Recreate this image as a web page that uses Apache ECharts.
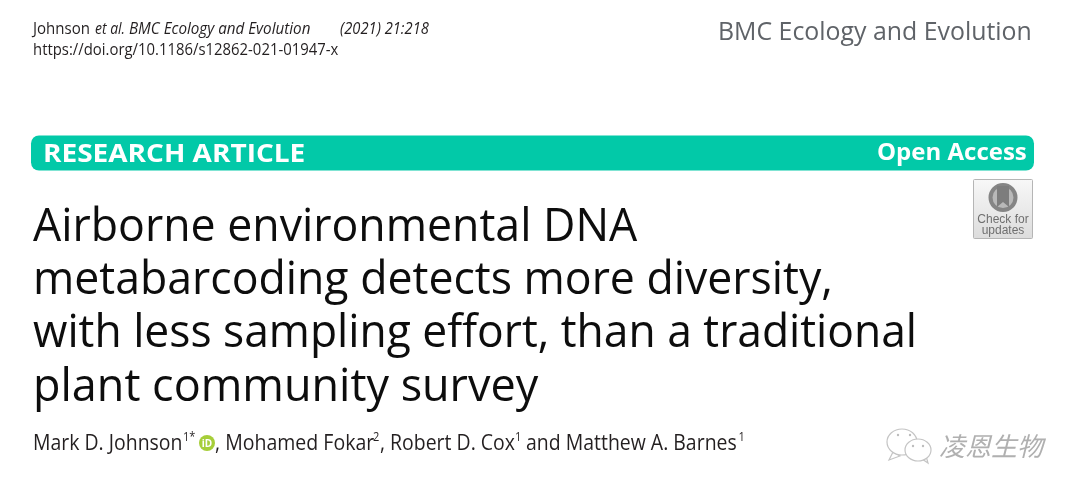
<!DOCTYPE html>
<html>
<head>
<meta charset="utf-8">
<style>
  html, body { margin: 0; padding: 0; background: #fff; }
  #main { width: 1080px; height: 495px; }
</style>
<script src="https://cdn.jsdelivr.net/npm/echarts@6/dist/echarts.min.js"></script>
</head>
<body>
<div id="main"></div>
<script>
var citation = ['Johnson', 'et al.', 'BMC Ecology and Evolution', '(2021) 21:218'];
var doi = 'https://doi.org/10.1186/s12862-021-01947-x';
var journal = 'BMC Ecology and Evolution';
var bannerLeft = 'RESEARCH ARTICLE';
var bannerRight = 'Open Access';
var titleLines = [
  'Airborne environmental DNA',
  'metabarcoding detects more diversity,',
  'with less sampling effort, than a traditional',
  'plant community survey'
];
var authors = ['Mark D. Johnson', ', Mohamed Fokar', ', Robert D. Cox', ' and Matthew A. Barnes'];
var authorMarks = ['1*', '2', '1', '1'];
var updateBadge = ['Check for', 'updates'];
var watermark = '凌恩生物';

var myChart = echarts.init(document.getElementById('main'));
var sans = '"Open Sans", "Noto Sans", sans-serif';
var ink = '#231f20';

// y is the baseline, k is how far the em middle sits above it for that font
function txt(str, x, y, size, opt) {
  opt = opt || {};
  var k = opt.k || 0.28;
  return {
    type: 'text',
    x: x,
    y: y - k * size,
    scaleX: opt.sx || 1,
    z: opt.z || 5,
    style: {
      text: str,
      fill: opt.color || ink,
      fontFamily: opt.family || sans,
      fontSize: size,
      fontWeight: opt.weight || 'normal',
      fontStyle: opt.italic ? 'italic' : 'normal',
      align: opt.align || 'left',
      verticalAlign: 'middle'
    }
  };
}

var els = [];

// header
els.push(txt(citation[0], 33, 34, 15.5, { sx: 0.97 }));
els.push(txt(citation[1], 95, 34, 15.5, { italic: true, sx: 0.9 }));
els.push(txt(citation[2], 129, 34, 15.5, { italic: true, sx: 0.98 }));
els.push(txt(citation[3], 340, 34, 15.5, { italic: true, sx: 0.95 }));
els.push(txt(doi, 33, 55, 15.5, { sx: 0.96 }));
els.push(txt(journal, 718, 40, 25, { color: '#5f6368', sx: 0.995 }));

// banner
els.push({
  type: 'rect',
  shape: { x: 31, y: 135.5, width: 1003, height: 35, r: 8 },
  style: { fill: '#02c9a8' }
});
els.push(txt(bannerLeft, 43, 162, 25, { color: '#fff', weight: 'bold', sx: 1.12 }));
els.push(txt(bannerRight, 877, 160, 24, { color: '#fff', weight: 'bold', sx: 1 }));

// title
var titleY = [240.5, 294, 346.5, 401];
var titleScale = [0.992, 0.991, 0.986, 0.999];
titleLines.forEach(function (line, i) {
  els.push(txt(line, 33, titleY[i], 45, { color: '#0d0d0d', sx: titleScale[i] }));
});

// authors
els.push(txt(authors[0], 33, 450, 21, { sx: 0.926 }));
els.push(txt(authorMarks[0], 183, 441, 12, { sx: 0.92 }));
els.push({ type: 'circle', shape: { cx: 207, cy: 443, r: 8 }, style: { fill: '#a6ce39' } });
els.push(txt('iD', 207, 446.5, 10, { color: '#fff', align: 'center', weight: 'bold' }));
els.push(txt(authors[1], 215, 450, 21, { sx: 0.93 }));
els.push(txt(authorMarks[1], 373, 441, 12, { sx: 0.92 }));
els.push(txt(authors[2], 380, 450, 21, { sx: 0.926 }));
els.push(txt(authorMarks[2], 515, 441, 12, { sx: 0.92 }));
els.push(txt(authors[3], 521, 450, 21, { sx: 0.926 }));
els.push(txt(authorMarks[3], 738.5, 441, 12, { sx: 0.92 }));

// check for updates badge
els.push({
  type: 'rect',
  shape: { x: 973.5, y: 179.5, width: 59, height: 59, r: 1 },
  style: {
    fill: new echarts.graphic.LinearGradient(0, 0, 0, 1, [
      { offset: 0, color: '#f8f8f8' },
      { offset: 1, color: '#dcdcdc' }
    ]),
    stroke: '#b5b5b5',
    lineWidth: 1
  }
});
els.push({ type: 'circle', shape: { cx: 1003, cy: 197.5, r: 12.5 }, style: { fill: '#b9b9b9', stroke: '#858585', lineWidth: 4 } });
els.push({
  type: 'polygon',
  shape: { points: [[997, 186], [1009, 186], [1009, 207], [1003, 202], [997, 207]] },
  style: { fill: '#7d7d7d' }
});
var badgeFont = '"Liberation Sans", sans-serif';
els.push(txt(updateBadge[0], 1003, 223, 12, { color: '#6f6f6f', align: 'center', family: badgeFont, k: 0.27 }));
els.push(txt(updateBadge[1], 1003, 234, 12, { color: '#6f6f6f', align: 'center', family: badgeFont, k: 0.27 }));

// wechat watermark
var bubble = { fill: '#fff', stroke: '#c4c4c4', lineWidth: 1.2 };
els.push({ type: 'polygon', shape: { points: [[893, 452], [889, 460], [900, 456]] }, style: bubble });
els.push({ type: 'ellipse', shape: { cx: 902, cy: 442, rx: 15, ry: 13 }, style: bubble });
els.push({ type: 'polygon', shape: { points: [[922, 459], [928, 463], [926, 456]] }, style: bubble });
els.push({ type: 'ellipse', shape: { cx: 918, cy: 450, rx: 13, ry: 11 }, style: bubble });
var eyes = [[898, 435], [910, 435], [913, 446], [923, 446]];
eyes.forEach(function (p) {
  els.push({ type: 'circle', shape: { cx: p[0], cy: p[1], r: 1.2 }, style: { fill: '#bdbdbd' } });
});
els.push(txt(watermark, 939, 455, 26, {
  color: '#b0b0b0',
  family: '"Noto Sans CJK SC", sans-serif',
  italic: true,
  k: 0.36
}));

myChart.setOption({
  animation: false,
  backgroundColor: '#fff',
  graphic: { elements: els }
});
window.addEventListener('resize', function () {
  myChart.resize();
});
</script>
</body>
</html>
